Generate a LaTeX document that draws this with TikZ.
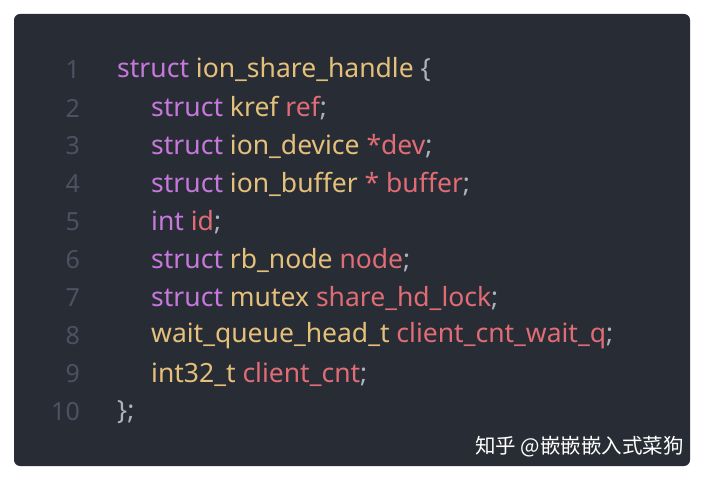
\documentclass[tikz,border=0pt]{standalone}
\usepackage{fontspec}
\setmainfont{Noto Sans}
\newfontfamily\cjk{Noto Sans CJK SC}
\definecolor{bgc}{HTML}{282C34}
\definecolor{kw}{HTML}{C678DD}
\definecolor{ty}{HTML}{E5C07B}
\definecolor{va}{HTML}{E06C75}
\definecolor{pu}{HTML}{ABB2BF}
\definecolor{ln}{HTML}{4B5263}
\newcommand{\K}[1]{\textcolor{kw}{#1}}
\newcommand{\T}[1]{\textcolor{ty}{#1}}
\newcommand{\V}[1]{\textcolor{va}{#1}}
\newcommand{\Pn}[1]{\textcolor{pu}{#1}}
\begin{document}
\begin{tikzpicture}[x=1pt,y=-1pt,
  codeline/.style={anchor=west,inner sep=0pt,font=\fontsize{26.5}{30}\selectfont},
  lnum/.style={anchor=east,inner sep=0pt,text=ln,font=\fontsize{25}{28}\selectfont}]
\useasboundingbox (0,0) rectangle (702,478);
\fill[white] (0,0) rectangle (702,478);
\fill[bgc,rounded corners=6pt] (14,14) rectangle (690,466);
\foreach \i in {1,...,10} \node[lnum] (n\i) at (80,{70+38*(\i-1)}) {\i};
\node[codeline] (c1) at (117,70) {\K{struct} \T{ion\_share\_handle} \Pn{\{}};
\node[codeline] (c2) at (151,108) {\K{struct} \T{kref} \V{ref}\Pn{;}};
\node[codeline] (c3) at (151,146) {\K{struct} \T{ion\_device} \V{*dev}\Pn{;}};
\node[codeline] (c4) at (151,184) {\K{struct} \T{ion\_buffer} \V{* buffer}\Pn{;}};
\node[codeline] (c5) at (151,222) {\K{int} \V{id}\Pn{;}};
\node[codeline] (c6) at (151,260) {\K{struct} \T{rb\_node} \V{node}\Pn{;}};
\node[codeline] (c7) at (151,298) {\K{struct} \T{mutex} \V{share\_hd\_lock}\Pn{;}};
\node[codeline] (c8) at (151,336) {\T{wait\_queue\_head\_t} \V{client\_cnt\_wait\_q}\Pn{;}};
\node[codeline] (c9) at (151,374) {\T{int32\_t} \V{client\_cnt}\Pn{;}};
\node[codeline] (c10) at (117,412) {\Pn{\};}};
\node[anchor=east,inner sep=0pt,text=white,font=\cjk\fontsize{20.5}{24}\selectfont] (wm) at (684,447) {知乎 @嵌嵌嵌入式菜狗};
\end{tikzpicture}
\end{document}
